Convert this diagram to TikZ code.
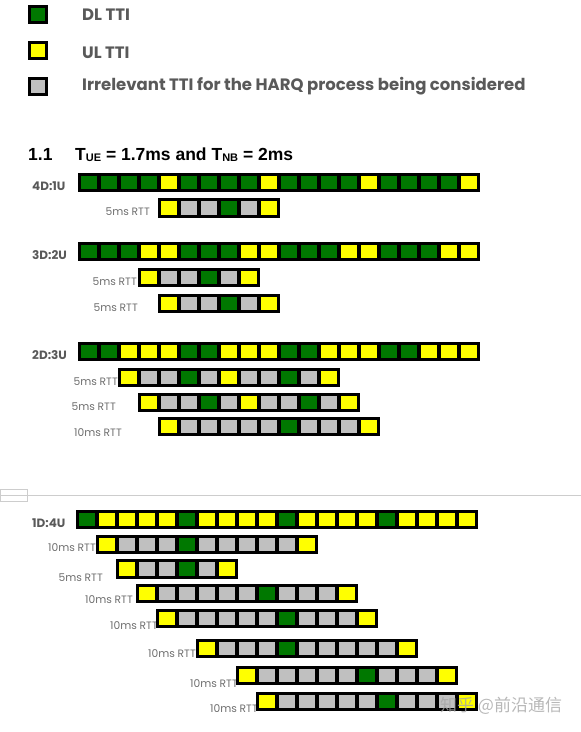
\documentclass[tikz,border=0pt]{standalone}
\usepackage{fontspec}
\setmainfont{Liberation Sans}
\newfontfamily\gothic{Poppins}
\newfontfamily\cjk{Noto Sans CJK SC}
\usetikzlibrary{positioning}
\definecolor{ttiD}{RGB}{0, 120, 0}
\definecolor{ttiU}{RGB}{255, 255, 0}
\definecolor{ttiX}{RGB}{192, 192, 192}
\definecolor{txtgray}{RGB}{89, 89, 89}
\definecolor{lblgray}{RGB}{110, 110, 110}
\definecolor{rulegray}{RGB}{205, 205, 205}

\tikzset{
  tti/.style={draw=black, line width=3pt, minimum width=19pt, minimum height=16.5pt, inner sep=0pt, outer sep=0pt},
  legtext/.style={font=\gothic\bfseries\fontsize{16.5}{19}\selectfont, text=txtgray, anchor=west, inner sep=0pt},
  cfglabel/.style={font=\gothic\bfseries\fontsize{12}{14}\selectfont, text=txtgray, anchor=west, inner sep=0pt},
  rttlabel/.style={font=\gothic\fontsize{10.7}{13}\selectfont, text=lblgray, anchor=east, inner sep=0pt},
  heading/.style={font=\bfseries\fontsize{17.5}{20}\selectfont, anchor=base west, inner sep=0pt},
}

% one row of TTIs: name, x of first cell, y, list of D/U/X
\newcommand{\ttirow}[4]{%
  \foreach \c [count=\k from 0] in {#4}
    \node[tti, fill=tti\c] (#1-\k) at ({#2+20*\k}, #3) {};
}
% small subscript of the heading
\newcommand{\hsub}[1]{\raisebox{-1.5pt}{\fontsize{11}{12}\selectfont #1}}

\begin{document}
\begin{tikzpicture}[x=1pt, y=-1pt]
  \useasboundingbox (0, 0) rectangle (581, 732);

  % Legend
  \node[tti, fill=ttiD, minimum width=17pt, minimum height=16pt] (legD) at (38, 14.5) {};
  \node[tti, fill=ttiU, minimum width=17pt, minimum height=16pt] (legU) at (38, 50.5) {};
  \node[tti, fill=ttiX, minimum width=17pt, minimum height=16pt] (legX) at (38, 86) {};
  \node[legtext] (legDtext) at (82, 15) {DL TTI};
  \node[legtext] (legUtext) at (82, 53) {UL TTI};
  \node[legtext] (legXtext) at (82, 86) {Irrelevant TTI for the HARQ process being considered};

  % Heading
  \node[heading] (secnum) at (28, 160) {1.1};
  \node[heading] (sectitle) at (75, 160) {T\hsub{UE} = 1.7ms and T\hsub{NB} = 2ms};

  % 4D:1U
  \node[cfglabel] (cfgA) at (32, 186) {4D:1U};
  \ttirow{A}{89}{182.5}{D,D,D,D,U,D,D,D,D,U,D,D,D,D,U,D,D,D,D,U}
  \node[rttlabel] (rttA1) at (150, 212) {5ms RTT};
  \ttirow{A1}{169}{208}{U,X,X,D,X,U}

  % 3D:2U
  \node[cfglabel] (cfgB) at (32, 255) {3D:2U};
  \ttirow{B}{89}{251.5}{D,D,D,U,U,D,D,D,U,U,D,D,D,U,U,D,D,D,U,U}
  \node[rttlabel] (rttB1) at (137, 282) {5ms RTT};
  \ttirow{B1}{149}{277.5}{U,X,X,D,X,U}
  \node[rttlabel] (rttB2) at (138, 308) {5ms RTT};
  \ttirow{B2}{169}{303.5}{U,X,X,D,X,U}

  % 2D:3U
  \node[cfglabel] (cfgC) at (32, 355) {2D:3U};
  \ttirow{C}{89}{351.5}{D,D,U,U,U,D,D,U,U,U,D,D,U,U,U,D,D,U,U,U}
  \node[rttlabel] (rttC1) at (118, 382) {5ms RTT};
  \ttirow{C1}{129}{377.5}{U,X,X,D,X,U,X,X,D,X,U}
  \node[rttlabel] (rttC2) at (116, 407) {5ms RTT};
  \ttirow{C2}{149}{402.5}{U,X,X,D,X,U,X,X,D,X,U}
  \node[rttlabel] (rttC3) at (122, 433) {10ms RTT};
  \ttirow{C3}{169}{426.5}{U,X,X,X,X,X,D,X,X,X,U}

  % page break
  \draw[rulegray, line width=0.8pt] (27, 495) -- (581, 495);
  \draw[rulegray, line width=0.8pt] (0, 489) rectangle (27, 501);
  \draw[rulegray, line width=0.8pt] (0, 495) -- (27, 495);

  % 1D:4U
  \node[cfglabel] (cfgD) at (32, 523) {1D:4U};
  \ttirow{D}{87}{519.5}{D,U,U,U,U,D,U,U,U,U,D,U,U,U,U,D,U,U,U,U}
  \node[rttlabel] (rttD1) at (96, 548) {10ms RTT};
  \ttirow{D1}{107}{544.5}{U,X,X,X,D,X,X,X,X,X,U}
  \node[rttlabel] (rttD2) at (103, 578) {5ms RTT};
  \ttirow{D2}{127}{569}{U,X,X,D,X,U}
  \node[rttlabel] (rttD3) at (133, 600) {10ms RTT};
  \ttirow{D3}{147}{593.5}{U,X,X,X,X,X,D,X,X,X,U}
  \node[rttlabel] (rttD4) at (158, 626) {10ms RTT};
  \ttirow{D4}{167}{618.5}{U,X,X,X,X,X,D,X,X,X,U}
  \node[rttlabel] (rttD5) at (196, 654) {10ms RTT};
  \ttirow{D5}{207}{648.5}{U,X,X,X,D,X,X,X,X,X,U}
  \node[rttlabel] (rttD6) at (238, 684) {10ms RTT};
  \ttirow{D6}{247}{675.5}{U,X,X,X,X,X,D,X,X,X,U}
  \node[rttlabel] (rttD7) at (258, 709) {10ms RTT};
  \ttirow{D7}{267}{701.5}{U,X,X,X,X,X,D,X,X,X,U}

  % watermark
  \node[font=\cjk\fontsize{17}{20}\selectfont, text=gray!70, opacity=0.8, anchor=west, inner sep=0pt] (mark) at (440, 706) {知乎 @前沿通信};
\end{tikzpicture}
\end{document}
